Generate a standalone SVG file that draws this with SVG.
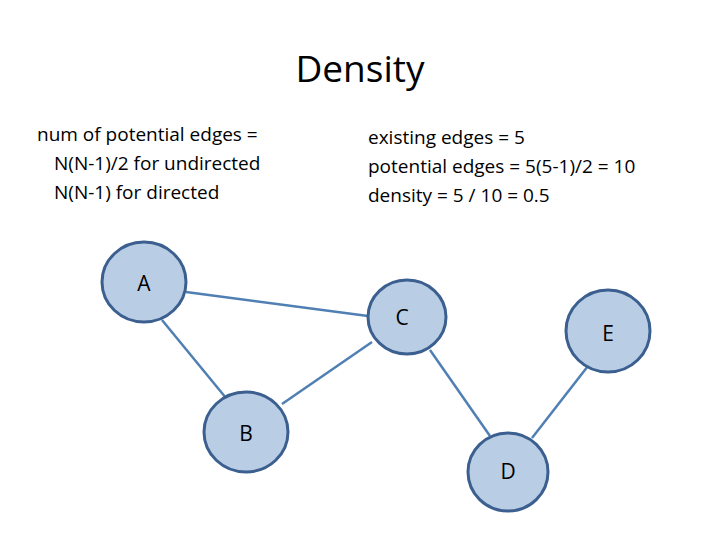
<svg xmlns="http://www.w3.org/2000/svg" width="720" height="540" viewBox="0 0 720 540">
<style>
text{font-family:"Open Sans","Liberation Sans",sans-serif;fill:#000}
.t{font-size:19px}
.n ellipse{fill:#b9cde5;stroke:#3b5f8f;stroke-width:3}
.n text{font-size:21px;text-anchor:middle}
#edges line{stroke:#4f7fb3;stroke-width:2.5}
</style>
<rect width="720" height="540" fill="#fff"/>
<text x="360" y="82" font-size="37" text-anchor="middle">Density</text>
<text class="t" x="37" y="141">num of potential edges =</text>
<text class="t" x="54" y="170">N(N-1)/2 for undirected</text>
<text class="t" x="54" y="199">N(N-1) for directed</text>
<text class="t" x="368" y="144">existing edges = 5</text>
<text class="t" x="368" y="173">potential edges = 5(5-1)/2 = 10</text>
<text class="t" x="368" y="202">density = 5 / 10 = 0.5</text>
<g id="edges">
<line x1="186" y1="292" x2="368" y2="316"/>
<line x1="162" y1="320" x2="226" y2="398"/>
<line x1="372" y1="342" x2="282" y2="404"/>
<line x1="430" y1="350" x2="490" y2="436"/>
<line x1="588" y1="366" x2="532" y2="438"/>
</g>
<g id="A" class="n"><ellipse cx="144" cy="282" rx="42" ry="40"/><text x="144" y="291">A</text></g>
<g id="C" class="n"><ellipse cx="407" cy="317" rx="39" ry="37"/><text x="402" y="325">C</text></g>
<g id="E" class="n"><ellipse cx="608" cy="331" rx="42" ry="41"/><text x="608" y="341">E</text></g>
<g id="B" class="n"><ellipse cx="246" cy="432" rx="42" ry="40"/><text x="246" y="441">B</text></g>
<g id="D" class="n"><ellipse cx="508" cy="472" rx="40" ry="39"/><text x="508" y="479">D</text></g>
</svg>
